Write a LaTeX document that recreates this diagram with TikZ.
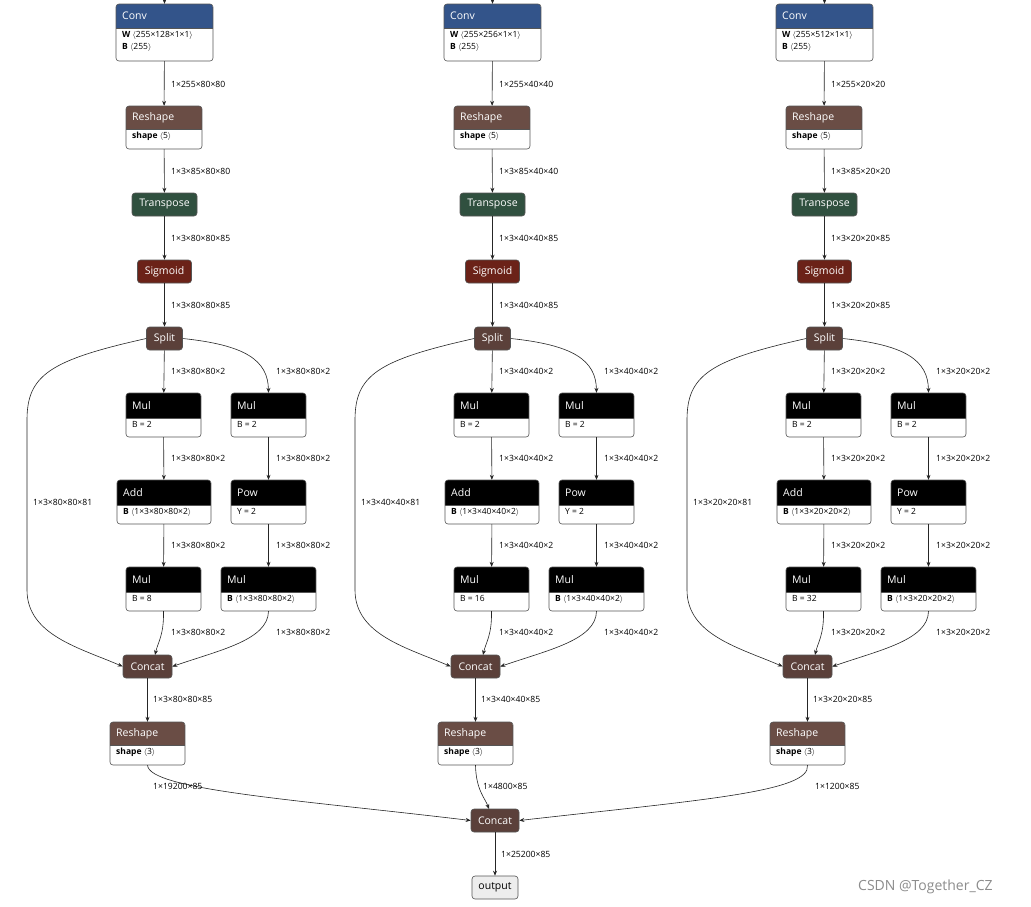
\documentclass[tikz,border=0pt]{standalone}
\usepackage{fontspec}
\setmainfont{Open Sans}
\usetikzlibrary{arrows.meta,fit}
\definecolor{cconv}{HTML}{33548A}
\definecolor{cresh}{HTML}{6A4D45}
\definecolor{ctran}{HTML}{30503F}
\definecolor{csig}{HTML}{6B2218}
\definecolor{csplit}{HTML}{5B403A}
\definecolor{cline}{HTML}{555555}
\tikzset{
  boxline/.style={draw=cline, line width=0.6pt},
  ttl/.style={text=white, inner sep=0, font=\fontsize{10.5}{12}\selectfont},
  bdy/.style={inner sep=0, align=left, font=\fontsize{8.5}{14}\selectfont},
  lbl/.style={anchor=west, inner sep=0, font=\fontsize{8.6}{10}\selectfont},
  simple/.style={draw=cline, line width=0.6pt, rounded corners=3pt, text=white, minimum height=23pt, inner sep=0, font=\fontsize{10.5}{12}\selectfont},
  edge/.style={-{Stealth[length=5pt,width=4pt]}, draw=black!85, line width=0.6pt},
}
\newcommand\opbox[9]{%
  \begin{scope}
    \clip[rounded corners=3pt] (#2,#3) rectangle (#4,#5);
    \fill[white] (#2,#3) rectangle (#4,#5);
    \fill[#7] (#2,#3) rectangle (#4,#6);
  \end{scope}
  \draw[boxline, rounded corners=3pt] (#2,#3) rectangle (#4,#5);
  \draw[boxline] (#2,#6) -- (#4,#6);
  \node[fit={(#2,#3)(#4,#5)}, inner sep=0] (#1) {};
  \node[ttl, anchor=west] at ({#2+6},{(#3+#6)/2}) {#8};
  \node[bdy, anchor=north west] at ({#2+6},{#6+3}) {#9};
}
\newcommand\la{\ensuremath{\langle}}
\newcommand\ra{\ensuremath{\rangle}}
\newcommand\yolocol[5]{% prefix, shift, size, channels, Bmul
\begin{scope}[xshift=#2pt]
  \coordinate (#1top) at (164.5,0);
  \opbox{#1conv}{116}{4}{213}{61}{28}{cconv}{Conv}{\textbf{W} \la255×#4×1×1\ra\\[-2pt]\textbf{B} \la255\ra}
  \opbox{#1resh}{126}{106}{202}{149}{129}{cresh}{Reshape}{\textbf{shape} \la5\ra}
  \node[simple, fill=ctran, minimum width=65pt] (#1tran) at (164.5,204.5) {Transpose};
  \node[simple, fill=csig, minimum width=54pt] (#1sig) at (164.5,271.5) {Sigmoid};
  \node[simple, fill=csplit, minimum width=36pt] (#1split) at (164.5,338.5) {Split};
  \opbox{#1mula}{126}{393}{201}{437}{418}{black}{Mul}{B = 2}
  \opbox{#1mulb}{231}{393}{306}{437}{418}{black}{Mul}{B = 2}
  \opbox{#1add}{117}{480}{211}{524}{505}{black}{Add}{\textbf{B} \la1×3×#3×#3×2\ra}
  \opbox{#1pow}{231}{480}{306}{524}{505}{black}{Pow}{Y = 2}
  \opbox{#1mulc}{126}{567}{201}{611}{592}{black}{Mul}{B = #5}
  \opbox{#1muld}{221}{567}{316}{611}{592}{black}{Mul}{\textbf{B} \la1×3×#3×#3×2\ra}
  \node[simple, fill=csplit, minimum width=49pt] (#1cat) at (147.5,666.5) {Concat};
  \opbox{#1reshb}{110}{722}{185}{765}{745}{cresh}{Reshape}{\textbf{shape} \la3\ra}
  \draw[edge] (#1top) -- (#1conv);
  \draw[edge] (#1conv) -- (#1resh);
  \node[lbl] at (171,84) {1×255×#3×#3};
  \draw[edge] (#1resh) -- (#1tran);
  \node[lbl] at (171,171) {1×3×85×#3×#3};
  \draw[edge] (#1tran) -- (#1sig);
  \node[lbl] at (171,238) {1×3×#3×#3×85};
  \draw[edge] (#1sig) -- (#1split);
  \node[lbl] at (171,305) {1×3×#3×#3×85};
  \draw[edge] (#1split) -- (#1mula);
  \node[lbl] at (171,371) {1×3×#3×#3×2};
  \draw[edge] (#1split.east) .. controls (245,345) and (268,360) .. (#1mulb.north);
  \node[lbl] at (276,371) {1×3×#3×#3×2};
  \draw[edge] (#1split.west) .. controls (50,360) and (27,375) .. (27,420) -- (27,590) .. controls (27,635) and (80,648) .. (#1cat.west);
  \node[lbl] at (33,502) {1×3×#3×#3×81};
  \draw[edge] (#1mula) -- (#1add);
  \node[lbl] at (171,458) {1×3×#3×#3×2};
  \draw[edge] (#1mulb) -- (#1pow);
  \node[lbl] at (276,458) {1×3×#3×#3×2};
  \draw[edge] (#1add) -- (#1mulc);
  \node[lbl] at (171,545) {1×3×#3×#3×2};
  \draw[edge] (#1pow) -- (#1muld);
  \node[lbl] at (276,545) {1×3×#3×#3×2};
  \draw[edge] (#1mulc.south) .. controls (164,635) and (158,642) .. (155,655);
  \node[lbl] at (171,632) {1×3×#3×#3×2};
  \draw[edge] (#1muld.south) .. controls (268,640) and (220,650) .. (#1cat.east);
  \node[lbl] at (276,632) {1×3×#3×#3×2};
  \draw[edge] (#1cat) -- (#1reshb);
  \node[lbl] at (153,699) {1×3×#3×#3×85};
\end{scope}}
\begin{document}
\begin{tikzpicture}[x=1pt,y=-1pt]
\useasboundingbox[fill=white] (0,0) rectangle (1031,906);
\yolocol{a}{0}{80}{128}{8}
\yolocol{b}{328}{40}{256}{16}
\yolocol{c}{660}{20}{512}{32}
\node[simple, fill=csplit, minimum width=48pt] (fcat) at (495,820.5) {Concat};
\node[simple, fill=black!7, text=black, minimum width=46pt] (out) at (495,887.5) {output};
\draw[edge] (areshb.south) .. controls (149,790) and (300,800) .. (fcat.west);
\node[lbl] at (153,786) {1×19200×85};
\draw[edge] (breshb.south) .. controls (476,790) and (485,798) .. (489,809);
\node[lbl] at (483,786) {1×4800×85};
\draw[edge] (creshb.south) .. controls (811,792) and (700,800) .. (fcat.east);
\node[lbl] at (815,786) {1×1200×85};
\draw[edge] (fcat) -- (out);
\node[lbl] at (501,854) {1×25200×85};
\node[anchor=west, inner sep=0, text=black!45, font=\fontsize{14}{16}\selectfont] at (858,887) {CSDN @Together\_CZ};
\end{tikzpicture}
\end{document}
